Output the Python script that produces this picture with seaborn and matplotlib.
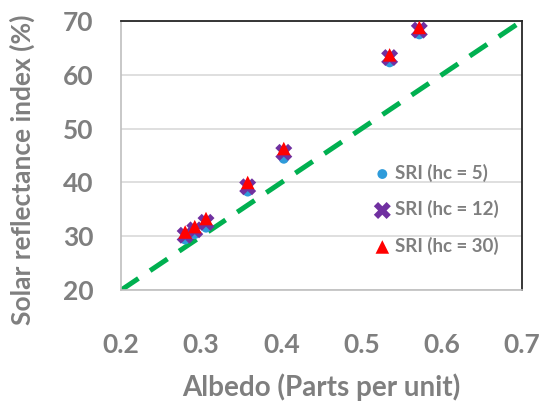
import seaborn as sns
import matplotlib.pyplot as plt
import pandas as pd

# Albedo (parts per unit) of each sample
albedo = [0.280, 0.292, 0.306, 0.358, 0.403, 0.535, 0.572]

# Solar reflectance index for three convection coefficients
sri_hc5 = [29.4, 30.4, 31.6, 38.3, 44.4, 62.3, 67.5]
sri_hc12 = [30.2, 31.2, 32.6, 39.2, 45.6, 63.2, 68.3]
sri_hc30 = [30.8, 31.8, 33.3, 40.0, 46.3, 63.7, 68.8]

# 1:1 reference line
line_x = [0.2, 0.7]
line_y = [20, 70]

x_ticks = [0.2, 0.3, 0.4, 0.5, 0.6, 0.7]
y_ticks = [20, 30, 40, 50, 60, 70]

sns.set_style("white")
plt.rcParams["font.family"] = ["Lato", "DejaVu Sans"]
plt.rcParams["font.weight"] = "bold"

grey = "#7F7F7F"

fig = plt.figure(figsize=(5.5, 4.11), dpi=100)
ax = fig.add_axes([0.22, 0.294, 0.729, 0.655])

ref = pd.DataFrame({"x": line_x, "y": line_y})
sns.lineplot(data=ref, x="x", y="y", ax=ax, color="#00B050", linewidth=3.6,
             dashes=False, zorder=2, legend=False)
ax.lines[-1].set_dashes([4.2, 2.8])
ax.lines[-1].set_dash_capstyle("butt")

sns.scatterplot(x=albedo, y=sri_hc5, ax=ax, marker="o", s=50, color="#2E9BDA",
                edgecolor="none", label="SRI (hc = 5)", zorder=3)
sns.scatterplot(x=albedo, y=sri_hc12, ax=ax, marker="X", s=150, color="#7030A0",
                edgecolor="none", label="SRI (hc = 12)", zorder=4)
sns.scatterplot(x=albedo, y=sri_hc30, ax=ax, marker="^", s=95, color="#FF0000",
                edgecolor="none", label="SRI (hc = 30)", zorder=5)

ax.set_xlim(0.2, 0.7)
ax.set_ylim(20, 70)
ax.set_xticks(x_ticks)
ax.set_xticklabels([f"{t:.1f}" for t in x_ticks])
ax.set_yticks(y_ticks)
ax.tick_params(axis="both", length=0, labelsize=19, labelcolor=grey)
ax.tick_params(axis="x", pad=31)
ax.tick_params(axis="y", pad=20)
for lab in ax.get_xticklabels() + ax.get_yticklabels():
    lab.set_fontweight("bold")

ax.grid(axis="y", color="#D9D9D9", linewidth=1.2)
ax.set_axisbelow(True)
for side in ["top", "right"]:
    ax.spines[side].set_color("#262626")
    ax.spines[side].set_linewidth(1.3)
for side in ["left", "bottom"]:
    ax.spines[side].set_color("#BFBFBF")
    ax.spines[side].set_linewidth(1.2)

ax.set_xlabel("Albedo (Parts per unit)", fontsize=20, color=grey,
              fontweight="bold")
ax.set_ylabel("Solar reflectance index (%)", fontsize=19, color=grey,
              fontweight="bold")
ax.xaxis.set_label_coords(0.5, -0.31)
ax.yaxis.set_label_coords(-0.214, 0.446)

leg = ax.legend(loc="center left", bbox_to_anchor=(0.605, 0.3), frameon=False,
                fontsize=13.5, labelspacing=0.98, handletextpad=0.1,
                handlelength=1.2, borderaxespad=0)
for t in leg.get_texts():
    t.set_color(grey)
    t.set_fontweight("bold")

fig.savefig("out.png", dpi=100)
